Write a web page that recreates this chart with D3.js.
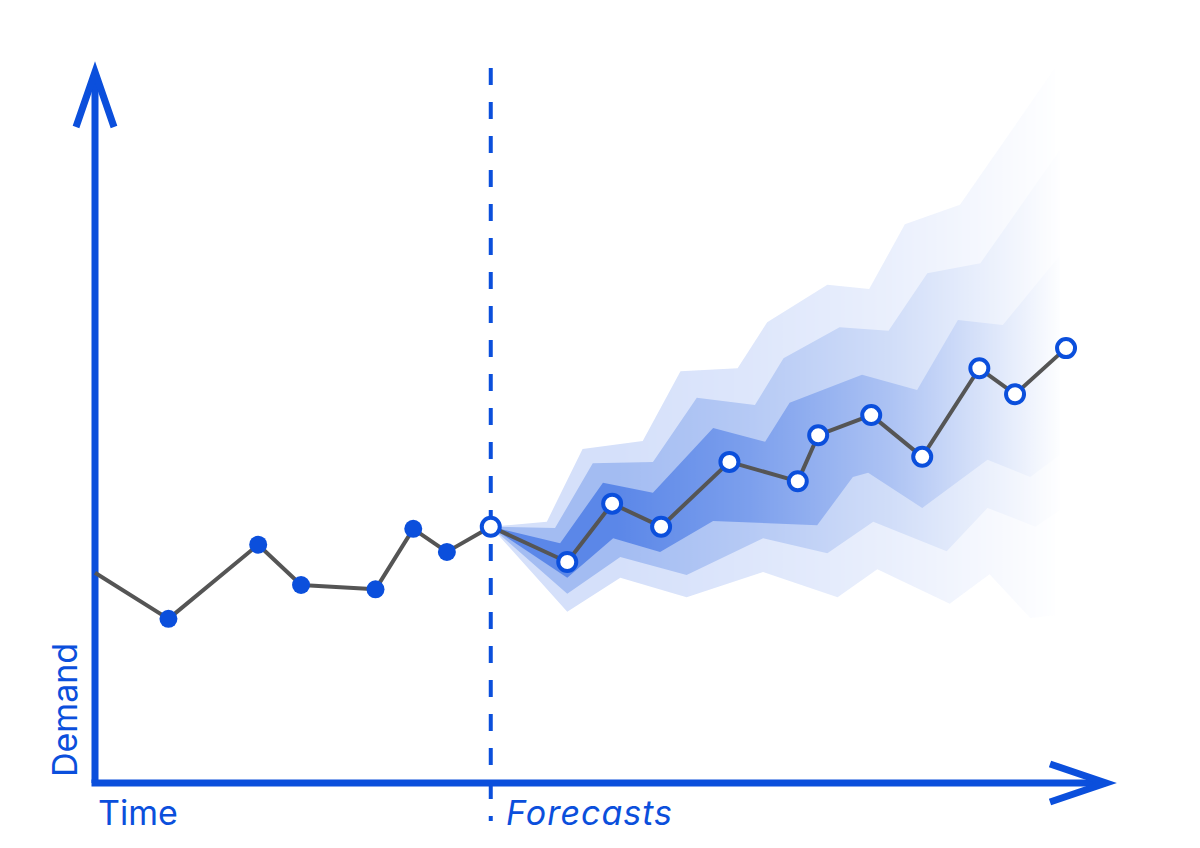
<!DOCTYPE html>
<html>
<head>
<meta charset="utf-8">
<script src="https://cdn.jsdelivr.net/npm/d3@7"></script>
<style>
	body { margin: 0; background: #ffffff; }
	#chart { width: 1200px; height: 848px; }
</style>
</head>
<body>
<div id="chart"></div>
<script>
/* demand forecast sketch */

// time / demand, observed part (first point sits on the y axis)
var observed = [
	[0, 29.2], [7.2, 22.8], [16.0, 33.1], [20.2, 27.5],
	[27.5, 26.9], [31.2, 35.3], [34.5, 32.1], [38.8, 35.6]
];

// forecast points
var forecast = [
	[38.8, 35.6], [46.3, 30.7], [50.7, 38.8], [55.5, 35.6],
	[62.2, 44.6], [68.9, 41.9], [70.9, 48.3], [76.1, 51.1],
	[81.1, 45.3], [86.7, 57.6], [90.2, 54.0], [95.2, 60.4]
];

// uncertainty bands, upper and lower edges
var outerUpper = [
	[38.8, 35.6], [44.3, 36.3], [47.8, 46.4], [53.7, 47.5], [57.4, 57.2], [63.0, 57.6],
	[65.9, 64.0], [71.8, 69.2], [75.9, 68.6], [79.4, 77.6], [84.8, 80.3], [94.1, 99.3]
];
var outerLower = [
	[38.8, 35.6], [46.3, 23.8], [51.5, 28.5], [58.0, 25.8], [65.5, 29.3], [72.8, 25.8],
	[76.7, 29.7], [83.8, 24.9], [87.7, 29.0], [91.7, 22.9], [94.1, 23.3]
];
var middleUpper = [
	[38.8, 35.6], [45.1, 35.4], [48.8, 44.4], [54.7, 44.6], [59.0, 53.5], [64.7, 52.5],
	[67.5, 59.0], [73.0, 63.3], [77.8, 62.8], [81.6, 70.8], [86.8, 72.2], [94.6, 87.9]
];
var middleLower = [
	[38.8, 35.6], [46.3, 26.3], [51.5, 31.4], [58.0, 28.9], [65.5, 34.0], [71.8, 31.9],
	[76.3, 36.3], [83.5, 32.2], [87.5, 38.2], [92.2, 35.6], [94.6, 37.9]
];
var innerUpper = [
	[38.8, 35.6], [45.6, 33.3], [49.8, 41.7], [54.7, 40.3], [60.6, 49.3], [65.7, 47.4],
	[68.1, 52.8], [75.2, 56.7], [80.6, 54.6], [84.6, 64.3], [89.0, 63.6], [94.6, 73.3]
];
var innerLower = [
	[38.8, 35.6], [46.3, 28.5], [50.8, 34.0], [55.4, 32.1], [60.6, 36.4], [70.8, 35.8],
	[74.3, 42.5], [75.8, 43.1], [81.1, 38.2], [87.5, 44.9], [91.7, 42.5], [94.6, 45.6]
];

var forecastStart = 38.8;
var labels = { x: "Time", y: "Demand", split: "Forecasts" };

var blue = "#0b4fdc";

var w = 1200, h = 848;
var svg = d3.select("#chart").append("svg")
	.attr("width", w)
	.attr("height", h);

var x = d3.scaleLinear().domain([0, 100]).range([95, 1115]);
var y = d3.scaleLinear().domain([0, 100]).range([783, 63]);

var line = d3.line()
	.x(function(d) { return x(d[0]); })
	.y(function(d) { return y(d[1]); });

// fade the bands out to the right
var defs = svg.append("defs");
var grad = defs.append("linearGradient")
	.attr("id", "fadeGrad")
	.attr("gradientUnits", "userSpaceOnUse")
	.attr("x1", x(forecastStart)).attr("x2", x(95))
	.attr("y1", 0).attr("y2", 0);
var stops = [[0, 1], [0.22, 1], [0.45, 0.8], [0.7, 0.5], [0.88, 0.2], [1, 0]];
stops.forEach(function(s) {
	grad.append("stop")
		.attr("offset", s[0])
		.attr("stop-color", "#ffffff")
		.attr("stop-opacity", s[1]);
});
defs.append("mask")
	.attr("id", "fade")
	.attr("maskUnits", "userSpaceOnUse")
	.attr("x", 0).attr("y", 0).attr("width", w).attr("height", h)
	.append("rect")
	.attr("width", w).attr("height", h)
	.attr("fill", "url(#fadeGrad)");

var bands = svg.append("g").attr("mask", "url(#fade)");
var bandDefs = [
	[outerUpper, outerLower, "#d5e0fa"],
	[middleUpper, middleLower, "#a3bcf2"],
	[innerUpper, innerLower, "#5b87e8"]
];
bandDefs.forEach(function(b) {
	var pts = b[0].concat(b[1].slice().reverse());
	bands.append("path")
		.attr("d", line(pts) + "Z")
		.attr("fill", b[2]);
});

// split line
svg.append("line")
	.attr("x1", x(forecastStart)).attr("x2", x(forecastStart))
	.attr("y1", 68).attr("y2", 821)
	.style("stroke", blue)
	.style("stroke-width", 4)
	.style("stroke-dasharray", "17,17");

// axes (chevron vertex set back so the miter tip lands on the axis end)
var tipY = y(100) + 9, tipX = x(100) - 9;
svg.append("line")
	.attr("x1", x(0)).attr("y1", y(0))
	.attr("x2", x(0)).attr("y2", tipY + 4)
	.style("stroke", blue).style("stroke-width", 7);
svg.append("path")
	.attr("d", "M" + (x(0) - 19) + "," + (tipY + 55) + "L" + x(0) + "," + tipY + "L" + (x(0) + 19) + "," + (tipY + 55))
	.style("fill", "none").style("stroke", blue).style("stroke-width", 7)
	.style("stroke-linejoin", "miter").style("stroke-miterlimit", 10);

svg.append("line")
	.attr("x1", x(0) - 3.5).attr("y1", y(0))
	.attr("x2", tipX - 4).attr("y2", y(0))
	.style("stroke", blue).style("stroke-width", 7);
svg.append("path")
	.attr("d", "M" + (tipX - 56) + "," + (y(0) - 19) + "L" + tipX + "," + y(0) + "L" + (tipX - 56) + "," + (y(0) + 19))
	.style("fill", "none").style("stroke", blue).style("stroke-width", 7)
	.style("stroke-linejoin", "miter").style("stroke-miterlimit", 10);

// series line
svg.append("path")
	.attr("d", line(observed.concat(forecast.slice(1))))
	.style("fill", "none")
	.style("stroke", "#555555")
	.style("stroke-width", 4)
	.style("stroke-linejoin", "round");

svg.selectAll(".hist")
	.data(observed.slice(1, observed.length - 1))
	.enter().append("circle")
	.attr("class", "hist")
	.attr("cx", function(d) { return x(d[0]); })
	.attr("cy", function(d) { return y(d[1]); })
	.attr("r", 9)
	.style("fill", blue);

svg.selectAll(".fc")
	.data(forecast)
	.enter().append("circle")
	.attr("class", "fc")
	.attr("cx", function(d) { return x(d[0]); })
	.attr("cy", function(d) { return y(d[1]); })
	.attr("r", 9)
	.style("fill", "#ffffff")
	.style("stroke", blue)
	.style("stroke-width", 4);

// labels
var font = "Inter, 'Open Sans', sans-serif";
svg.append("text")
	.attr("x", 98).attr("y", 825)
	.text(labels.x)
	.attr("font-family", font).attr("font-size", "34px")
	.style("fill", blue);
svg.append("text")
	.attr("x", 506).attr("y", 825)
	.text(labels.split)
	.attr("font-family", font).attr("font-size", "34px")
	.style("font-style", "italic")
	.style("letter-spacing", "1px")
	.style("fill", blue);
svg.append("text")
	.attr("transform", "translate(77,777) rotate(-90)")
	.text(labels.y)
	.attr("font-family", font).attr("font-size", "34px")
	.style("fill", blue);
</script>
</body>
</html>
